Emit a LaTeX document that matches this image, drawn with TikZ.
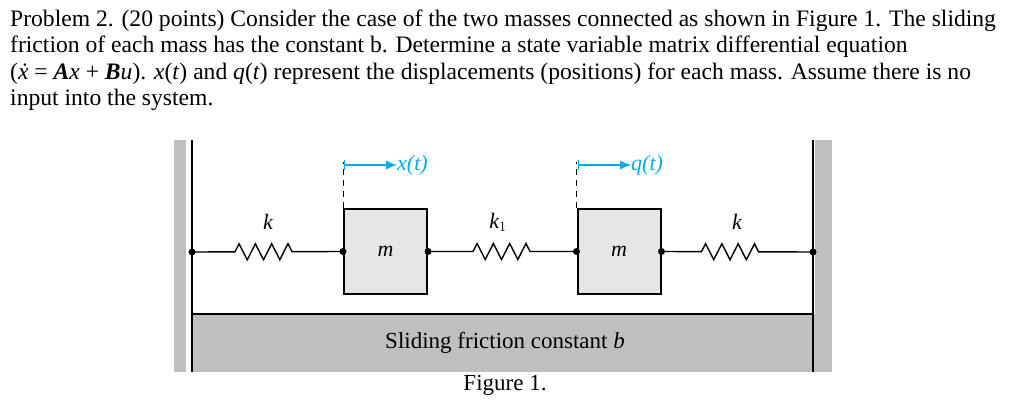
\documentclass[tikz,border=0pt]{standalone}
\usepackage{fontspec}
\setmainfont{Liberation Serif}
\usetikzlibrary{decorations.pathmorphing,arrows.meta}
\definecolor{wallgray}{RGB}{190,191,193}
\definecolor{massgray}{RGB}{230,230,230}
\definecolor{cyanb}{RGB}{0,170,235}
\tikzset{
  title/.style={anchor=base west,inner sep=0,font=\fontsize{23.6}{28}\selectfont},
  mass/.style={draw,line width=2pt,fill=massgray,minimum width=83pt,minimum height=85pt,inner sep=0,font=\fontsize{22}{26}\selectfont\itshape},
  lbl/.style={inner sep=0,font=\fontsize{22}{26}\selectfont\itshape},
  spr/.style={line width=1.4pt},
  dot/.style={circle,fill=black,inner sep=0,minimum size=7pt},
}
\begin{document}
\begin{tikzpicture}[x=1pt,y=-1pt]
\useasboundingbox (0,0) rectangle (1024,409);
\node[title] (t1) at (10,27) {Problem 2. (20 points) Consider the case of the two masses connected as shown in Figure 1. The sliding};
\node[title] (t2) at (10,53) {friction of each mass has the constant b. Determine a state variable matrix differential equation};
\node[title] (t3) at (10,80) {(\textit{\.{x}} = \textbf{\textit{A}}\textit{x} + \textbf{\textit{B}}\textit{u}). \textit{x}(\textit{t}) and \textit{q}(\textit{t}) represent the displacements (positions) for each mass. Assume there is no};
\node[title] (t4) at (10,106) {input into the system.};
% walls and floor
\fill[wallgray] (174,140) rectangle (186,372);
\fill[wallgray] (815,140) rectangle (832,372);
\fill[wallgray] (192,314) rectangle (815,372);
\draw[line width=2.4pt] (192,140) -- (192,372);
\draw[line width=2.4pt] (813,140) -- (813,372);
\draw[line width=2.4pt] (192,314) -- (813,314);
\node[inner sep=0,font=\fontsize{23}{27}\selectfont] (sf) at (505,343) {Sliding friction constant \textit{b}};
\node[inner sep=0,font=\fontsize{23}{27}\selectfont] (fig) at (505,385) {Figure 1.};
% masses
\node[mass] (m1) at (385.5,251.5) {m};
\node[mass] (m2) at (619,251.5) {m};
\coordinate (wl) at (192,252);
\coordinate (wr) at (813,252);
\node[dot] at (wl) {};\node[dot] at (wr) {};
\node[dot] at (m1.west) {};\node[dot] at (m1.east) {};
\node[dot] at (m2.west) {};\node[dot] at (m2.east) {};
\tikzset{zz/.style={decorate,decoration={zigzag,segment length=16.3pt,amplitude=8pt,pre length=43pt,post length=44pt}}}
\draw[spr,zz] (wl) -- (m1.west);
\draw[spr,zz,decoration={pre length=45pt,post length=41pt}] (m1.east) -- (m2.west);
\draw[spr,zz,decoration={pre length=40pt,post length=48pt}] (m2.east) -- (wr);
\node[lbl] (k) at (268,222) {k};
\node[lbl] (k1) at (498,222) {k$_1$};
\node[lbl] (k2) at (737,222) {k};
% displacement markers
\draw[dash pattern=on 6pt off 5pt,line width=1pt] (m1.north west) -- ++(0,-46);
\draw[dash pattern=on 6pt off 5pt,line width=1pt] (m2.north west) -- ++(0,-46);
\node[lbl,text=cyanb,anchor=west] (x) at (397,165) {x(t)};
\node[lbl,text=cyanb,anchor=west] (q) at (631,165) {q(t)};
\draw[cyanb,line width=1.3pt,{Bar[width=10pt,line width=1.3pt]}-{Latex[length=11pt,width=9pt]}] (344,165) -- (x.west);
\draw[cyanb,line width=1.3pt,{Bar[width=10pt,line width=1.3pt]}-{Latex[length=11pt,width=9pt]}] (578,165) -- (q.west);
\end{tikzpicture}
\end{document}
